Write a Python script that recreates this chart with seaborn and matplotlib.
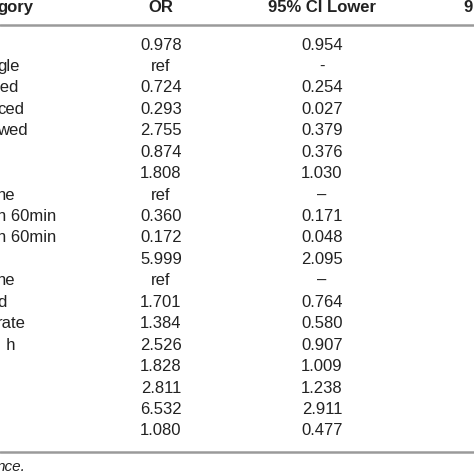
import matplotlib
matplotlib.use("Agg")
import matplotlib.pyplot as plt
import seaborn as sns

# table contents (cropped on left and right as in the source image)
headers = ["gory", "OR", "95% CI Lower", "9"]
categories = ["", "gle", "ied", "ced", "wed", "", "", "ne", "n 60min", "n 60min",
              "", "ne", "d", "rate", "  h", "", "", "", ""]
odds_ratio = ["0.978", "ref", "0.724", "0.293", "2.755", "0.874", "1.808", "ref",
              "0.360", "0.172", "5.999", "ref", "1.701", "1.384", "2.526", "1.828",
              "2.811", "6.532", "1.080"]
ci_lower = ["0.954", "-", "0.254", "0.027", "0.379", "0.376", "1.030", "–",
            "0.171", "0.048", "2.095", "–", "0.764", "0.580", "0.907", "1.009",
            "1.238", "2.911", "0.477"]
footnote = "nce."

sns.set_style("white")
plt.rcParams['font.family'] = ['Liberation Sans', 'DejaVu Sans']

fig = plt.figure(figsize=(4.74, 4.74), dpi=100)
ax = fig.add_axes([0, 0, 1, 1])
ax.set_xlim(0, 474)
ax.set_ylim(20.01, -2.099)
ax.axis("off")

fs = 12
col_x = [-3, 161, 322, 463]
txt = "#222222"

ax.text(col_x[0], -1.77, headers[0], fontsize=fs, fontweight="bold", ha="left", va="center", color=txt)
ax.text(col_x[1], -1.77, headers[1], fontsize=fs, fontweight="bold", ha="center", va="center", color=txt)
ax.text(col_x[2], -1.77, headers[2], fontsize=fs, fontweight="bold", ha="center", va="center", color=txt)
ax.text(col_x[3], -1.77, headers[3], fontsize=fs, fontweight="bold", ha="left", va="center", color=txt)

ax.axhline(-0.93, color="#9a9a9a", lw=1.8)
ax.axhline(18.98, color="#9a9a9a", lw=1.8)

for i, (c, o, l) in enumerate(zip(categories, odds_ratio, ci_lower)):
    ax.text(col_x[0], i, c, fontsize=fs, ha="left", va="center", color=txt)
    ax.text(col_x[1], i, o, fontsize=fs, ha="center", va="center", color=txt)
    ax.text(col_x[2], i, l, fontsize=fs, ha="center", va="center", color=txt)

ax.text(col_x[0], 19.68, footnote, fontsize=fs - 1, style="italic", ha="left", va="center", color=txt)

fig.savefig("out.png", dpi=100)
